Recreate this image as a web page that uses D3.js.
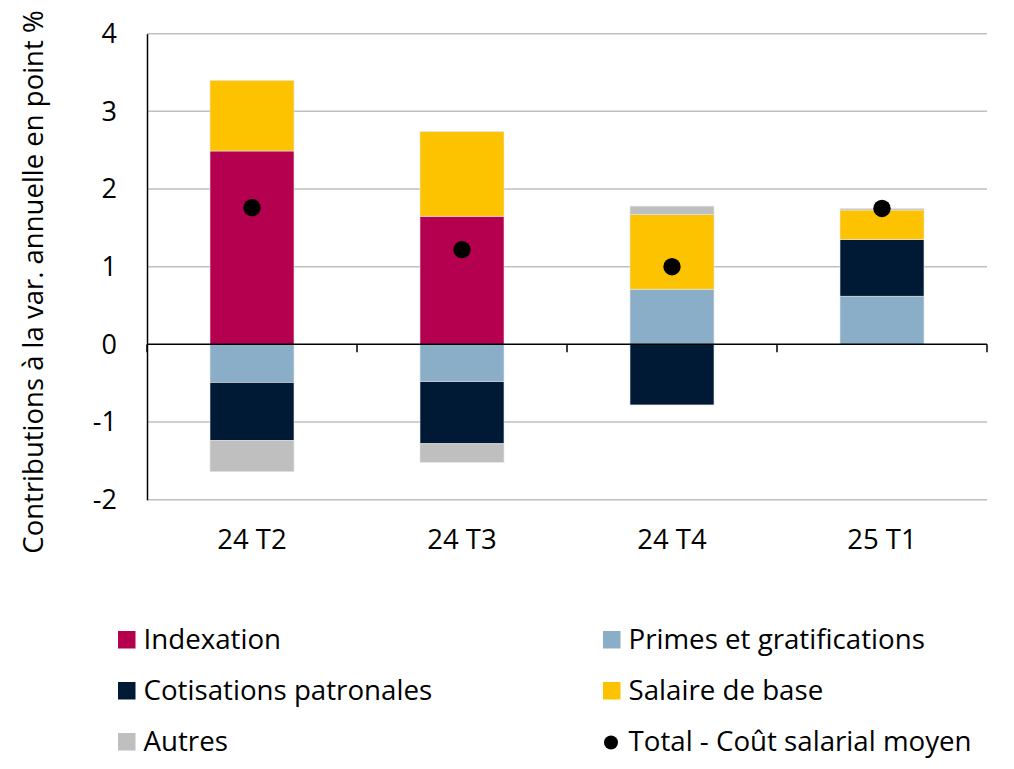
<!DOCTYPE html>
<html><head><meta charset="utf-8">
<script src="https://cdn.jsdelivr.net/npm/d3@7/dist/d3.min.js"></script>
<style>body{margin:0;background:#fff}svg{display:block;font-family:"Open Sans",sans-serif}</style>
</head><body><svg id="c" width="1014" height="769"></svg>
<script>
const categories = ["24 T2", "24 T3", "24 T4", "25 T1"];
const seriesNames = ["Indexation", "Primes et gratifications", "Cotisations patronales", "Salaire de base", "Autres"];
const indexation = [2.49, 1.65, 0.00, 0.00];
const primes = [-0.49, -0.48, 0.71, 0.62];
const cotisations = [-0.75, -0.80, -0.78, 0.73];
const salaire = [0.91, 1.09, 0.96, 0.38];
const autres = [-0.40, -0.24, 0.11, 0.02];
const total = [1.76, 1.22, 1.00, 1.75];
const yTicks = [-2, -1, 0, 1, 2, 3, 4];
const colors = ["#B5004F", "#8BAEC8", "#001A35", "#FDC300", "#BFBFBF"];

const seriesVals = [indexation, primes, cotisations, salaire, autres];
const rows = categories.map((c, i) => {
  const r = {cat: c};
  seriesNames.forEach((s, k) => r[s] = seriesVals[k][i]);
  return r;
});

const svg = d3.select("#c");
const L = 147, R = 987, T = 33.7, B = 499.7;
const x = d3.scaleBand().domain(categories).range([L, R]).padding(0);
const y = d3.scaleLinear().domain([-2, 4]).range([B, T]);
const barW = x.bandwidth() * 0.4;

// gridlines
svg.append("g").selectAll("line").data(yTicks.filter(t => t !== 0)).join("line")
  .attr("x1", L).attr("x2", R).attr("y1", d => y(d)).attr("y2", d => y(d))
  .attr("stroke", "#BFBFBF").attr("stroke-width", 1.5);

// bars
const stack = d3.stack().keys(seriesNames).offset(d3.stackOffsetDiverging);
const stacked = stack(rows);
svg.append("g").selectAll("g").data(stacked).join("g")
  .attr("fill", (d, i) => colors[i])
  .selectAll("rect").data(d => d).join("rect")
  .attr("x", d => x(d.data.cat) + (x.bandwidth() - barW) / 2)
  .attr("width", barW)
  .attr("y", d => y(Math.max(d[0], d[1])))
  .attr("height", d => Math.abs(y(d[0]) - y(d[1])))
  .attr("stroke", "#e8e8e8").attr("stroke-width", 0.6);

// y axis
const yAxis = d3.axisLeft(y).tickValues(yTicks).tickSize(0).tickPadding(30).tickFormat(d => String(d));
const ga = svg.append("g").attr("transform", `translate(${L},0)`).call(yAxis);
ga.select(".domain").attr("stroke", "#000").attr("stroke-width", 1.5);
ga.selectAll("text").attr("font-size", 27).attr("fill", "#000").attr("font-family", "Open Sans");

// x axis at zero
const gx = svg.append("g").attr("transform", `translate(0,${y(0)})`);
gx.append("line").attr("x1", L).attr("x2", R).attr("stroke", "#000").attr("stroke-width", 1.5);
const bounds = categories.map(c => x(c)).concat([R]);
gx.selectAll("line.tk").data(bounds).join("line").attr("class", "tk")
  .attr("x1", d => d).attr("x2", d => d).attr("y1", 0).attr("y2", 8)
  .attr("stroke", "#000").attr("stroke-width", 1.5);

// x labels
svg.append("g").selectAll("text").data(categories).join("text")
  .attr("x", d => x(d) + x.bandwidth() / 2).attr("y", 549)
  .attr("text-anchor", "middle").attr("font-size", 27.5).text(d => d);

// dots
svg.append("g").selectAll("circle").data(total).join("circle")
  .attr("cx", (d, i) => x(categories[i]) + x.bandwidth() / 2)
  .attr("cy", d => y(d)).attr("r", 8.7).attr("fill", "#000");

// y title
svg.append("text").attr("transform", "translate(43,282) rotate(-90)")
  .attr("text-anchor", "middle").attr("font-size", 27.5).text("Contributions à la var. annuelle en point %");

// legend
const legendItems = [
  {name: "Indexation", color: colors[0], col: 0, row: 0},
  {name: "Cotisations patronales", color: colors[2], col: 0, row: 1},
  {name: "Autres", color: colors[4], col: 0, row: 2},
  {name: "Primes et gratifications", color: colors[1], col: 1, row: 0},
  {name: "Salaire de base", color: colors[3], col: 1, row: 1},
  {name: "Total - Coût salarial moyen", color: "#000", col: 1, row: 2, dot: true}
];
const lg = svg.append("g");
legendItems.forEach(it => {
  const sx = it.col === 0 ? 118 : 603;
  const by = 648.5 + it.row * 51;
  if (it.dot) {
    lg.append("circle").attr("cx", sx + 8).attr("cy", by - 8).attr("r", 7).attr("fill", "#000");
  } else {
    lg.append("rect").attr("x", sx).attr("y", by - 17.5).attr("width", 17.5).attr("height", 17.5).attr("fill", it.color);
  }
  lg.append("text").attr("x", sx + 25.5).attr("y", by).attr("font-size", 27.7).text(it.name);
});
</script></body></html>
